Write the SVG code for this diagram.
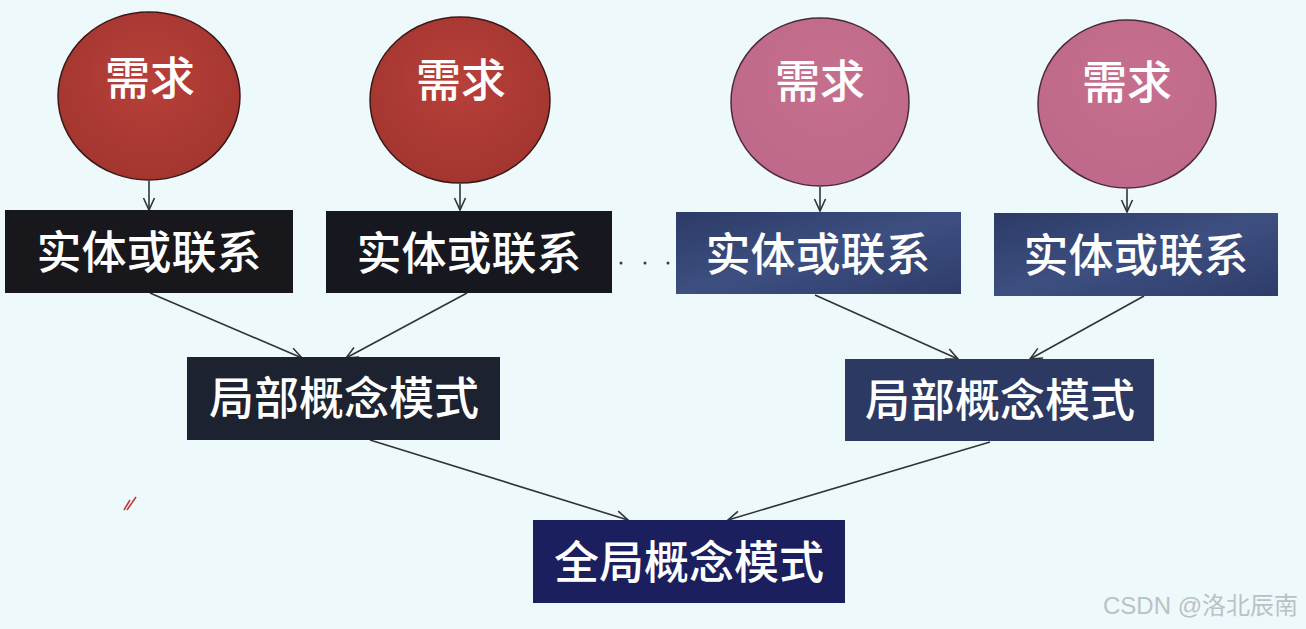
<svg xmlns="http://www.w3.org/2000/svg" width="1306" height="629" viewBox="0 0 1306 629">
<defs>
<style>
.lbl{font-family:"Noto Sans CJK SC","Noto Sans",sans-serif;font-size:45px;font-weight:500;fill:#ffffff;text-anchor:middle;dominant-baseline:central}
.conn{stroke:#2f3438;stroke-width:1.6;fill:none;marker-end:url(#arr)}
.red{stroke:#3a1a18;stroke-width:1.5}
.pink{stroke:#4a2a38;stroke-width:1.5}
.wm{font-family:"Liberation Sans","Noto Sans CJK SC",sans-serif;font-size:24px;fill:#b9c2c6}
</style>
<marker id="arr" viewBox="0 0 14 14" refX="13" refY="7" markerWidth="14" markerHeight="14" markerUnits="userSpaceOnUse" orient="auto">
<path d="M1,1.5 L13,7 L1,12.5" fill="none" stroke="#2f3438" stroke-width="1.6"/>
</marker>
<linearGradient id="blueg" x1="0" y1="0" x2="1" y2="1">
<stop offset="0" stop-color="#2c3a66"/>
<stop offset="0.5" stop-color="#3d4f80"/>
<stop offset="1" stop-color="#2e3c6a"/>
</linearGradient>
<radialGradient id="redg" cx="0.5" cy="0.4" r="0.6">
<stop offset="0" stop-color="#b8403a"/>
<stop offset="1" stop-color="#a3352f"/>
</radialGradient>
<radialGradient id="pinkg" cx="0.55" cy="0.35" r="0.6">
<stop offset="0" stop-color="#c66e8e"/>
<stop offset="1" stop-color="#bf6a8a"/>
</radialGradient>
</defs>
<rect width="1306" height="629" fill="#eef9fb"/>

<g id="connectors">
<line class="conn" x1="149" y1="181" x2="149" y2="210"/>
<line class="conn" x1="460" y1="184" x2="460" y2="210"/>
<line class="conn" x1="820" y1="187" x2="820" y2="211"/>
<line class="conn" x1="1127" y1="189" x2="1127" y2="212"/>
<line class="conn" x1="150" y1="293" x2="302" y2="358"/>
<line class="conn" x1="467" y1="293" x2="346" y2="358"/>
<line class="conn" x1="815" y1="295" x2="958" y2="359"/>
<line class="conn" x1="1144" y1="296" x2="1030" y2="359"/>
<line class="conn" x1="370" y1="440" x2="628" y2="520"/>
<line class="conn" x1="990" y1="442" x2="728" y2="520"/>
</g>

<g id="req1"><ellipse class="red" fill="url(#redg)" cx="149" cy="96" rx="91" ry="84"/><text class="lbl" x="150" y="75">需求</text></g>
<g id="req2"><ellipse class="red" fill="url(#redg)" cx="460" cy="100" rx="90" ry="83"/><text class="lbl" x="461" y="77">需求</text></g>
<g id="req3"><ellipse class="pink" fill="url(#pinkg)" cx="820" cy="102" rx="89" ry="84"/><text class="lbl" x="820" y="78">需求</text></g>
<g id="req4"><ellipse class="pink" fill="url(#pinkg)" cx="1127" cy="104" rx="89" ry="84"/><text class="lbl" x="1127" y="79">需求</text></g>

<g id="ent1"><rect x="5" y="210" width="288" height="83" fill="#17171c"/><text class="lbl" x="149" y="249">实体或联系</text></g>
<g id="ent2"><rect x="326" y="211" width="286" height="82" fill="#17181f"/><text class="lbl" x="469" y="250">实体或联系</text></g>
<g id="ent3"><rect x="676" y="212" width="285" height="82" fill="url(#blueg)"/><text class="lbl" x="818" y="251">实体或联系</text></g>
<g id="ent4"><rect x="994" y="213" width="284" height="83" fill="url(#blueg)"/><text class="lbl" x="1136" y="252">实体或联系</text></g>

<g id="dots" fill="#3a3a3a">
<circle cx="621" cy="263" r="1.5"/><circle cx="645" cy="263" r="1.5"/><circle cx="668" cy="263" r="1.5"/>
</g>

<g id="local1"><rect x="187" y="357" width="313" height="83" fill="#1d2230"/><text class="lbl" x="344" y="395">局部概念模式</text></g>
<g id="local2"><rect x="845" y="359" width="309" height="82" fill="#2c3a63"/><text class="lbl" x="1000" y="397">局部概念模式</text></g>

<g id="global"><rect x="533" y="520" width="312" height="83" fill="#1b1f5e"/><text class="lbl" x="689" y="559">全局概念模式</text></g>

<path d="M124,510 L130,500 M127,510 L136,497" stroke="#c73a3a" stroke-width="1.6" fill="none"/>

<text class="wm" x="1103" y="614">CSDN @洛北辰南</text>
</svg>
